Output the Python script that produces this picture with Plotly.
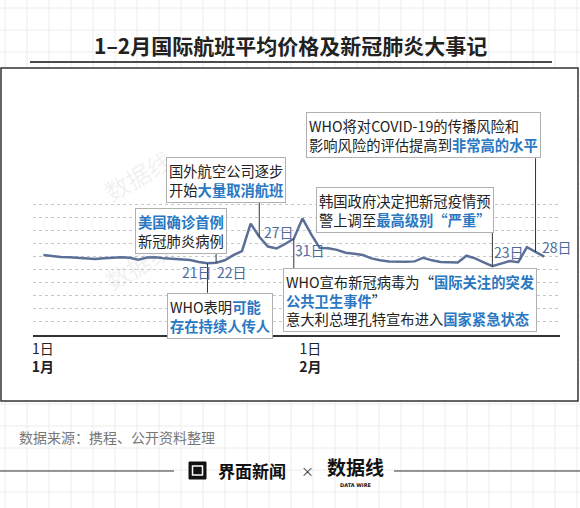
import pandas as pd
import plotly.graph_objects as go

# ---------------- data ----------------
dates = pd.date_range("2020-01-02", "2020-02-29", freq="D")
prices = [
    6100, 6020, 5960, 5930, 5870, 5810, 5800, 5850, 5920, 5940,   # Jan 2-11
    5900, 5750, 5920, 5940, 5850, 5820, 5780, 5730, 5580, 5470,   # Jan 12-21
    5520, 5700, 6100, 6400, 8500, 7500, 6750, 6600, 6950, 7350,   # Jan 22-31
    8900, 7700, 6650, 6620, 6500, 6280, 6200, 6100, 5850, 5700,   # Feb 1-10
    5620, 5600, 5600, 5620, 5900, 5700, 5580, 5550, 5530, 6050,   # Feb 11-20
    5850, 5550, 5250, 5450, 5650, 5560, 6700, 6350, 5980,         # Feb 21-29
]
tick_vals = ["2020-01-01", "2020-02-01"]
tick_text = ["1日<br><b>1月</b>", "1日<br><b>2月</b>"]
grid_vals = [1000, 2000, 3000, 4000, 5000, 6000, 7000, 8000, 9000, 10000]

event_dates = ["2020-01-21", "2020-01-22", "2020-01-27", "2020-01-31", "2020-02-23", "2020-02-28"]
event_labels = ["21日", "22日", "27日", "31日", "23日", "28日"]

BLUE = "#2a78c2"
def hl(t):
    return f"<span style='color:{BLUE}'><b>{t}</b></span>"

event_texts = [
    "WHO表明" + hl("可能") + "<br>" + hl("存在持续人传人"),
    hl("美国确诊首例") + "<br>新冠肺炎病例",
    "国外航空公司逐步<br>开始" + hl("大量取消航班"),
    "WHO宣布新冠病毒为“" + hl("国际关注的突发") + "<br>" + hl("公共卫生事件") + "”<br>意大利总理孔特宣布进入" + hl("国家紧急状态"),
    "韩国政府决定把新冠疫情预<br>警上调至" + hl("最高级别“严重”"),
    "WHO将对COVID-19的传播风险和<br>影响风险的评估提高到" + hl("非常高的水平"),
]

# ---------------- layout geometry (pixels) ----------------
W, H = 580, 508
PL, PR, PT, PB = 33, 560, 80, 335
PX_PER_1000 = 13.1
YMAX = (PB - PT) / PX_PER_1000 * 1000

def px(x):
    return (x - PL) / (PR - PL)

def py(y):
    return (PB - y) / (PB - PT)

def pval(y):
    return (PB - y) / PX_PER_1000 * 1000

# box top-left corners and the box edge the connector meets
box_pos = [(166.7, 292.7), (135, 207.7), (165.7, 157.3), (283.3, 268.3), (316, 186.7), (306, 112.3)]
box_edge = [292.7, 245, 194, 268.3, 225, 158.3]
label_pos = [(180, 271.7), (215, 271.7), (261.7, 231.7), (293, 250), (492, 251.7), (540, 246.7)]

FONT = "Noto Sans CJK SC"
fig = go.Figure()
fig.add_trace(go.Scatter(
    x=dates, y=prices, mode="lines",
    line=dict(color="#5b6f97", width=2.5),
    hoverinfo="skip", showlegend=False,
))

shapes = []
# graph-paper background
for gx in range(5, W, 22):
    shapes.append(dict(type="line", xref="paper", yref="paper", x0=px(gx), x1=px(gx), y0=py(0), y1=py(H),
                       line=dict(color="#ececec", width=1), layer="below"))
for gy in range(8, H, 22):
    shapes.append(dict(type="line", xref="paper", yref="paper", x0=px(0), x1=px(W), y0=py(gy), y1=py(gy),
                       line=dict(color="#ececec", width=1), layer="below"))
# white chart panel
shapes.append(dict(type="rect", xref="paper", yref="paper", x0=px(1), x1=px(578), y0=py(68), y1=py(401),
                   fillcolor="white", line=dict(color="#333", width=1.5), layer="below"))
# title underline
shapes.append(dict(type="line", xref="paper", yref="paper", x0=px(30), x1=px(552), y0=py(62), y1=py(62),
                   line=dict(color="#111", width=1.5)))
# footer lines
shapes.append(dict(type="line", xref="paper", yref="paper", x0=px(0), x1=px(174), y0=py(471), y1=py(471),
                   line=dict(color="#333", width=1)))
shapes.append(dict(type="line", xref="paper", yref="paper", x0=px(394), x1=px(580), y0=py(471), y1=py(471),
                   line=dict(color="#333", width=1)))
# logo square
shapes.append(dict(type="rect", xref="paper", yref="paper", x0=px(189), x1=px(206), y0=py(462), y1=py(479),
                   fillcolor="#111", line=dict(color="#111", width=1)))
shapes.append(dict(type="rect", xref="paper", yref="paper", x0=px(192.5), x1=px(202.5), y0=py(466), y1=py(475),
                   fillcolor="rgba(0,0,0,0)", line=dict(color="white", width=1.5)))

# connectors from data points to boxes
price_at = dict(zip([d.strftime("%Y-%m-%d") for d in dates], prices))
for d, edge in zip(event_dates, box_edge):
    shapes.append(dict(type="line", xref="x", yref="y", x0=d, x1=d, y0=price_at[d], y1=pval(edge),
                       line=dict(color="#333", width=1)))

annotations = []
annotations.append(dict(text="<b>1–2月国际航班平均价格及新冠肺炎大事记</b>", xref="paper", yref="paper",
                        x=px(290), y=py(45), showarrow=False, xanchor="center", yanchor="middle",
                        font=dict(family=FONT, size=21, color="#222")))
# watermarks (placed in free areas)
for wx, wy in [(95, 140), (95, 300)]:
    annotations.append(dict(text="数据线", xref="paper", yref="paper", x=px(wx), y=py(wy),
                            showarrow=False, textangle=-30,
                            font=dict(family=FONT, size=24, color="rgba(160,160,160,0.16)")))
for (bx, by), t in zip(box_pos, event_texts):
    annotations.append(dict(text=t, xref="paper", yref="paper", x=px(bx), y=py(by),
                            xanchor="left", yanchor="top", align="left", showarrow=False,
                            bgcolor="white", bordercolor="#b0b0b0", borderwidth=1, borderpad=2,
                            font=dict(family=FONT, size=14.3, color="#222")))
for (lx, ly), t in zip(label_pos, event_labels):
    annotations.append(dict(text=t, xref="paper", yref="paper", x=px(lx), y=py(ly),
                            xanchor="left", yanchor="middle", showarrow=False,
                            font=dict(family=FONT, size=14, color="#4d6c9c")))
# footer
annotations.append(dict(text="数据来源：携程、公开资料整理", xref="paper", yref="paper", x=px(17), y=py(437),
                        xanchor="left", yanchor="middle", showarrow=False,
                        font=dict(family=FONT, size=14, color="#777")))
annotations.append(dict(text="<b>界面新闻</b>", xref="paper", yref="paper", x=px(216), y=py(470),
                        xanchor="left", yanchor="middle", showarrow=False,
                        font=dict(family=FONT, size=17, color="#111")))
annotations.append(dict(text="×", xref="paper", yref="paper", x=px(307), y=py(471),
                        xanchor="center", yanchor="middle", showarrow=False,
                        font=dict(family=FONT, size=13, color="#333")))
annotations.append(dict(text="<b>数据线</b>", xref="paper", yref="paper", x=px(355), y=py(466),
                        xanchor="center", yanchor="middle", showarrow=False,
                        font=dict(family=FONT, size=19, color="#111")))
annotations.append(dict(text="<b>DATA WIRE</b>", xref="paper", yref="paper", x=px(355), y=py(485),
                        xanchor="center", yanchor="middle", showarrow=False,
                        font=dict(family="DejaVu Sans", size=5, color="#111")))

fig.update_layout(
    width=W, height=H,
    margin=dict(l=PL, r=W - PR, t=PT, b=H - PB, pad=0),
    paper_bgcolor="white", plot_bgcolor="rgba(0,0,0,0)",
    shapes=shapes, annotations=annotations,
    font=dict(family=FONT),
    xaxis=dict(
        type="date", range=["2019-12-31 19:00", "2020-03-01 20:00"],
        tickvals=tick_vals, ticktext=tick_text, ticks="", ticklabelshift=8, ticklabelstandoff=0,
        tickfont=dict(family=FONT, size=14, color="#222"),
        showgrid=False, zeroline=False, showline=True, linecolor="#333", linewidth=1.5,
        fixedrange=True,
    ),
    yaxis=dict(
        range=[0, YMAX], tickvals=grid_vals, showticklabels=False, ticks="",
        showgrid=True, gridcolor="#c8c8c8", griddash="dot", gridwidth=1,
        zeroline=False, showline=False, fixedrange=True,
    ),
)

fig.write_html("out.html")
